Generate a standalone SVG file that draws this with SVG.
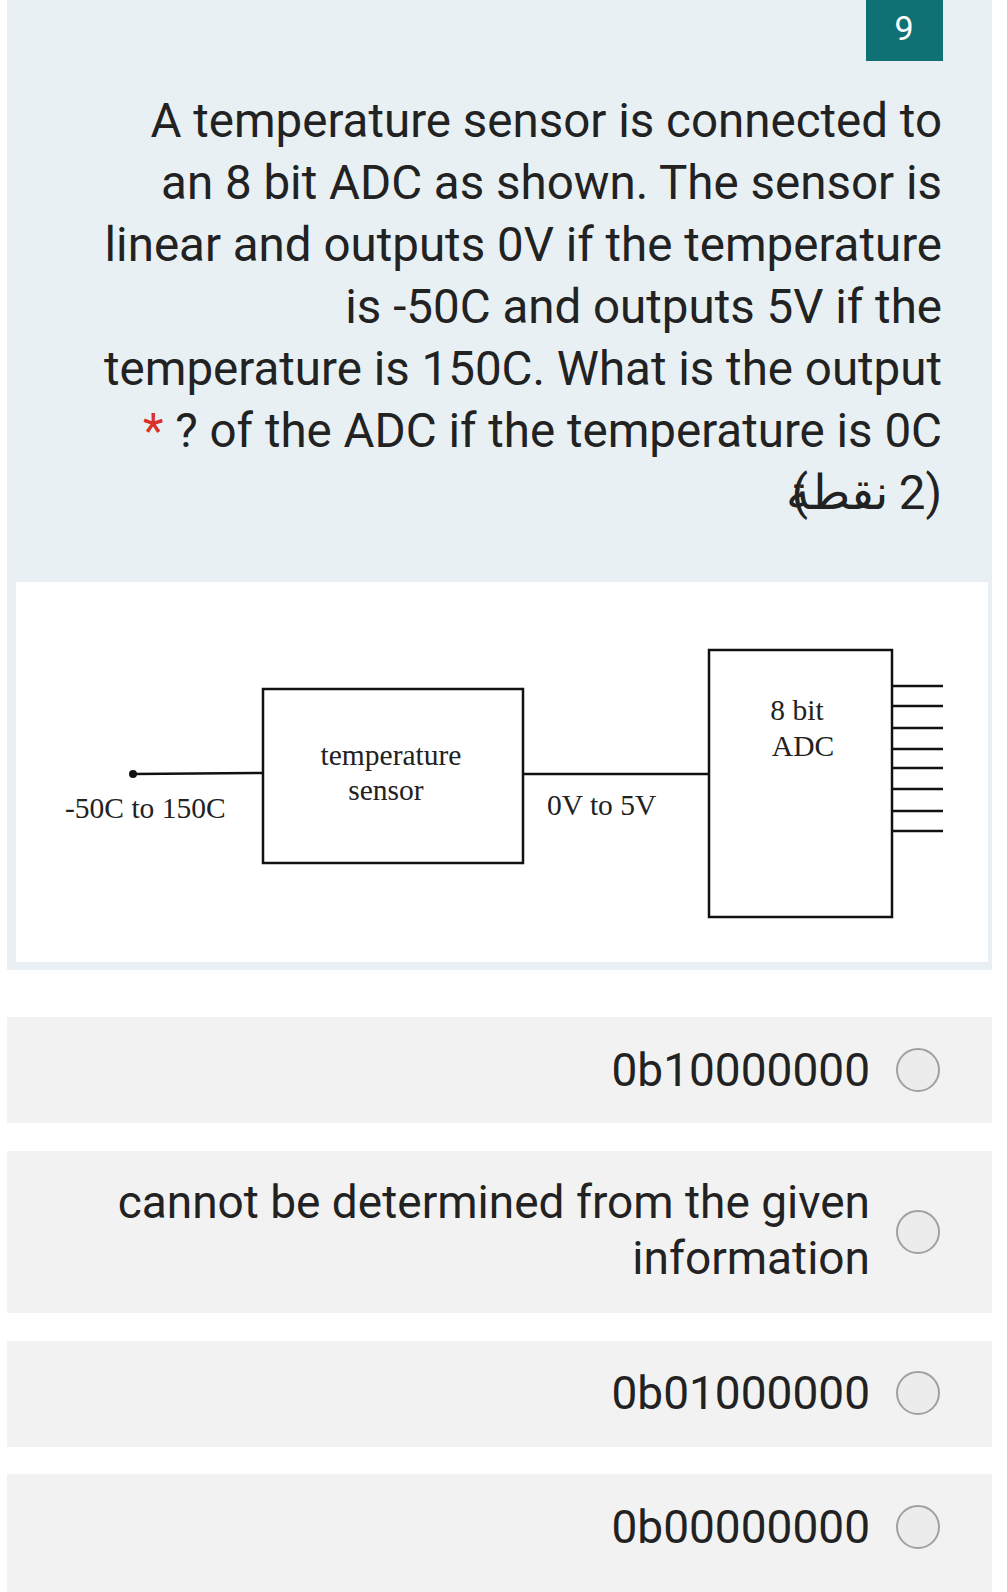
<svg xmlns="http://www.w3.org/2000/svg" width="1007" height="1592" viewBox="0 0 1007 1592">
<style>
.q{font-family:Roboto,"Noto Sans",sans-serif;font-size:47.5px;fill:#222;text-anchor:end}
.o{font-family:Roboto,"Noto Sans",sans-serif;font-size:46px;fill:#222;text-anchor:end}
.d{font-family:"Liberation Serif",serif;font-size:29.5px;fill:#222}
.box{fill:#fff;stroke:#111;stroke-width:2.5}
.w{stroke:#111;stroke-width:2.5}
.card{fill:#f2f2f2}
.rb{fill:#ececec;stroke:#a0a0a0;stroke-width:2}
</style>
<rect width="1007" height="1592" fill="#fff"/>
<rect x="7" y="0" width="985" height="970" fill="#e8f0f3"/>
<rect x="866" y="0" width="77" height="61" fill="#0f7173"/>
<text x="904" y="40" font-family="Roboto,sans-serif" font-size="34" fill="#fff" text-anchor="middle">9</text>
<text class="q" x="942" y="137">A temperature sensor is connected to</text>
<text class="q" x="942" y="199">an 8 bit ADC as shown. The sensor is</text>
<text class="q" x="942" y="261">linear and outputs 0V if the temperature</text>
<text class="q" x="942" y="323">is -50C and outputs 5V if the</text>
<text class="q" x="942" y="385">temperature is 150C. What is the output</text>
<text class="q" x="942" y="447"><tspan fill="#d93025">*</tspan> ? of the ADC if the temperature is 0C</text>
<text class="q" x="942" y="509">2)</text>
<text class="q" x="888" y="509" font-size="52">نقطة</text>
<text class="q" x="808" y="509">(</text>
<rect x="16" y="582" width="972" height="380" fill="#fff"/>
<g id="connectors">
<circle cx="133" cy="774" r="4" fill="#111"/>
<line class="w" x1="133" y1="774" x2="263" y2="773"/>
<line class="w" x1="523" y1="774" x2="709" y2="774"/>
<g class="w">
<line x1="892" y1="686" x2="943" y2="686"/><line x1="892" y1="706" x2="943" y2="706"/>
<line x1="892" y1="728" x2="943" y2="728"/><line x1="892" y1="749" x2="943" y2="749"/>
<line x1="892" y1="768" x2="943" y2="768"/><line x1="892" y1="789" x2="943" y2="789"/>
<line x1="892" y1="811" x2="943" y2="811"/><line x1="892" y1="831" x2="943" y2="831"/>
</g>
</g>
<g id="sensor"><rect class="box" x="263" y="689" width="260" height="174"/>
<text class="d" x="391" y="765" text-anchor="middle">temperature</text>
<text class="d" x="386" y="800" text-anchor="middle">sensor</text></g>
<g id="adc"><rect class="box" x="709" y="650" width="183" height="267"/>
<text class="d" x="797" y="720" text-anchor="middle">8 bit</text>
<text class="d" x="803" y="756" text-anchor="middle">ADC</text></g>
<text class="d" x="65" y="818">-50C to 150C</text>
<text class="d" x="547" y="815">0V to 5V</text>
<g id="opt1"><rect class="card" x="7" y="1017" width="985" height="106"/>
<text class="o" x="870" y="1086">0b10000000</text><circle class="rb" cx="918" cy="1070" r="21"/></g>
<g id="opt2"><rect class="card" x="7" y="1151" width="985" height="162"/>
<text class="o" x="870" y="1218">cannot be determined from the given</text>
<text class="o" x="870" y="1274">information</text><circle class="rb" cx="918" cy="1232" r="21"/></g>
<g id="opt3"><rect class="card" x="7" y="1341" width="985" height="106"/>
<text class="o" x="870" y="1409">0b01000000</text><circle class="rb" cx="918" cy="1393" r="21"/></g>
<g id="opt4"><rect class="card" x="7" y="1474" width="985" height="118"/>
<text class="o" x="870" y="1543">0b00000000</text><circle class="rb" cx="918" cy="1527" r="21"/></g>
</svg>
